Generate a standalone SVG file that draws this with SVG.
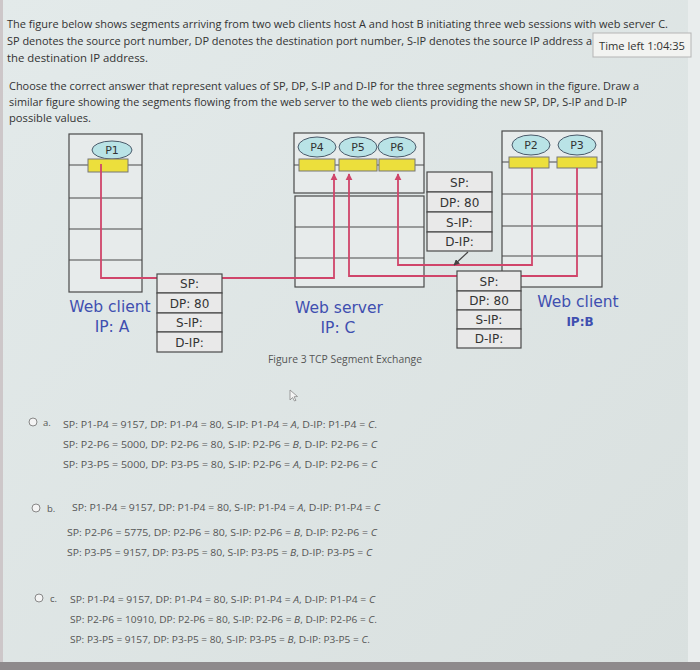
<svg xmlns="http://www.w3.org/2000/svg" width="700" height="670" viewBox="0 0 700 670">
<defs>
<linearGradient id="bg" x1="0" y1="0" x2="1" y2="1">
<stop offset="0" stop-color="#e3eaea"/>
<stop offset="1" stop-color="#d9e0df"/>
</linearGradient>
<marker id="ah" viewBox="0 0 10 10" refX="9" refY="5" markerWidth="4" markerHeight="4" orient="auto"><path d="M0,0 L10,5 L0,10 z" fill="#d0456a"/></marker>
<marker id="ag" viewBox="0 0 10 10" refX="9" refY="5" markerWidth="5" markerHeight="5" orient="auto"><path d="M0,0 L10,5 L0,10 z" fill="#444"/></marker>
</defs>
<style>
.hd{font-family:"Open Sans","Liberation Sans",sans-serif;font-size:10.8px;fill:#333}
.op{font-family:"Open Sans","Liberation Sans",sans-serif;font-size:9.5px;fill:#555}
.cap{font-family:"Open Sans","Liberation Sans",sans-serif;font-size:10px;fill:#555}
.stk{fill:#e7ebeb;stroke:#4a4a4a;stroke-width:1.2}
.ln{stroke:#4a4a4a;stroke-width:1.2}
.yel{fill:#ecdf3c;stroke:#777;stroke-width:1}
.ell{fill:#b9e3e6;stroke:#4a5a6a;stroke-width:1}
.pl{font-family:"DejaVu Sans",sans-serif;font-size:11px;fill:#333;text-anchor:middle}
.seg rect{fill:#e9e9e9;stroke:#4a4a4a;stroke-width:1.2}
.st{font-family:"DejaVu Sans",sans-serif;font-size:12px;fill:#333;text-anchor:middle}
.lab{font-family:"DejaVu Sans",sans-serif;font-size:15.5px;fill:#3f4fb0;text-anchor:middle}
.lab.sm{font-size:12px;font-weight:bold}
.red{fill:none;stroke:#d0456a;stroke-width:1.8}
.rad{fill:#f4f4f4;stroke:#888;stroke-width:1}
</style>
<rect width="700" height="670" fill="url(#bg)"/>
<rect x="688" y="0" width="12" height="662" fill="#e9eded"/>
<rect x="0" y="0" width="3" height="670" fill="#cdc7c9"/>
<rect x="0" y="662" width="700" height="8" fill="#8e8a8c"/>

<g id="header">
<text class="hd" x="7" y="28" textLength="661" lengthAdjust="spacingAndGlyphs">The figure below shows segments arriving from two web clients host A and host B initiating three web sessions with web server C.</text>
<text class="hd" x="7" y="45" textLength="585" lengthAdjust="spacingAndGlyphs">SP denotes the source port number, DP denotes the destination port number, S-IP denotes the source IP address a</text>
<text class="hd" x="7" y="62" textLength="141" lengthAdjust="spacingAndGlyphs">the destination IP address.</text>
<text class="hd" x="9" y="90" textLength="630" lengthAdjust="spacingAndGlyphs">Choose the correct answer that represent values of SP, DP, S-IP and D-IP for the three segments shown in the figure.  Draw a</text>
<text class="hd" x="9" y="106" textLength="618" lengthAdjust="spacingAndGlyphs">similar figure showing the segments flowing from the web server to the web clients providing the new SP, DP, S-IP and D-IP</text>
<text class="hd" x="9" y="122" textLength="82" lengthAdjust="spacingAndGlyphs">possible values.</text>
</g>
<g id="timer">
<rect x="593" y="33" width="98" height="24" fill="#f2f3f1" stroke="#b5b5b5"/>
<text class="hd" x="599" y="50" textLength="86" lengthAdjust="spacingAndGlyphs">Time left 1:04:35</text>
</g>

<g id="clientA">
<rect class="stk" x="69" y="134" width="73" height="158"/>
<line class="ln" x1="69" y1="165" x2="142" y2="165"/>
<line class="ln" x1="69" y1="198" x2="142" y2="198"/>
<line class="ln" x1="69" y1="229" x2="142" y2="229"/>
<line class="ln" x1="69" y1="260" x2="142" y2="260"/>
<ellipse class="ell" cx="112" cy="150" rx="20" ry="9"/>
<text class="pl" x="112" y="154">P1</text>
<rect class="yel" x="88" y="159" width="40" height="13"/>
<text class="lab" x="110" y="312">Web client</text>
<text class="lab" x="112" y="332">IP: A</text>
</g>

<g id="server">
<rect class="stk" x="294" y="133" width="130" height="60"/>
<rect class="stk" x="295" y="196" width="129" height="91"/>
<line class="ln" x1="294" y1="165" x2="424" y2="165"/>
<line class="ln" x1="295" y1="227" x2="424" y2="227"/>
<line class="ln" x1="295" y1="258" x2="424" y2="258"/>
<ellipse class="ell" cx="317" cy="147" rx="19" ry="10"/>
<text class="pl" x="317" y="151">P4</text>
<ellipse class="ell" cx="358" cy="147" rx="19" ry="10"/>
<text class="pl" x="358" y="151">P5</text>
<ellipse class="ell" cx="397" cy="147" rx="19" ry="10"/>
<text class="pl" x="397" y="151">P6</text>
<rect class="yel" x="299" y="159" width="36" height="12"/>
<rect class="yel" x="339" y="159" width="38" height="12"/>
<rect class="yel" x="379" y="159" width="36" height="12"/>
<text class="lab" x="339" y="313">Web server</text>
<text class="lab" x="338" y="333">IP: C</text>
</g>

<g id="clientB">
<rect class="stk" x="502" y="131" width="100" height="156"/>
<line class="ln" x1="502" y1="162" x2="602" y2="162"/>
<line class="ln" x1="502" y1="194" x2="602" y2="194"/>
<line class="ln" x1="502" y1="226" x2="602" y2="226"/>
<line class="ln" x1="502" y1="256" x2="602" y2="256"/>
<ellipse class="ell" cx="531" cy="145" rx="19" ry="10"/>
<text class="pl" x="531" y="149">P2</text>
<ellipse class="ell" cx="577" cy="145" rx="19" ry="10"/>
<text class="pl" x="577" y="149">P3</text>
<rect class="yel" x="509" y="157" width="40" height="11"/>
<rect class="yel" x="557" y="157" width="40" height="11"/>
<text class="lab" x="578" y="307">Web client</text>
<text class="lab sm" x="580" y="326">IP:B</text>
</g>

<g id="connectors">
<path class="red" d="M101,164 V278 H334 V174" marker-end="url(#ah)"/>
<path class="red" d="M532,168 V265 H398 V174" marker-end="url(#ah)"/>
<path class="red" d="M577,168 V276 H349 V174" marker-end="url(#ah)"/>
<path d="M468,252 L454,265" stroke="#444" stroke-width="1.2" fill="none" marker-end="url(#ag)"/>
</g>

<g id="segA" class="seg">
<rect x="157" y="274" width="65" height="19"/>
<rect x="157" y="293" width="65" height="20"/>
<rect x="157" y="313" width="65" height="19"/>
<rect x="157" y="332" width="65" height="20"/>
<text class="st" x="189.5" y="288">SP:</text>
<text class="st" x="189.5" y="307.5">DP: 80</text>
<text class="st" x="189.5" y="327">S-IP:</text>
<text class="st" x="189.5" y="346.5">D-IP:</text>
</g>

<g id="segB1" class="seg">
<rect x="427" y="172" width="65" height="20"/>
<rect x="427" y="192" width="65" height="20"/>
<rect x="427" y="212" width="65" height="20"/>
<rect x="427" y="232" width="65" height="19"/>
<text class="st" x="459.5" y="186.5">SP:</text>
<text class="st" x="459.5" y="206.5">DP: 80</text>
<text class="st" x="459.5" y="226.5">S-IP:</text>
<text class="st" x="459.5" y="246">D-IP:</text>
</g>

<g id="segB2" class="seg">
<rect x="457" y="271" width="64" height="20"/>
<rect x="457" y="291" width="64" height="19"/>
<rect x="457" y="310" width="64" height="19"/>
<rect x="457" y="329" width="64" height="19"/>
<text class="st" x="489" y="285.5">SP:</text>
<text class="st" x="489" y="305">DP: 80</text>
<text class="st" x="489" y="324">S-IP:</text>
<text class="st" x="489" y="343">D-IP:</text>
</g>

<text class="cap" x="268" y="363" textLength="154" lengthAdjust="spacingAndGlyphs">Figure 3 TCP Segment Exchange</text>
<path d="M290,390 L290,400 L292.5,397.5 L294.5,401 L296,400.3 L294,396.8 L297.5,396.5 Z" fill="#f4f4f4" stroke="#888" stroke-width="0.8"/>

<g id="optA">
<circle class="rad" cx="33" cy="422" r="4"/>
<text class="op" x="43" y="426">a.</text>
<text class="op" x="63" y="428" textLength="314" lengthAdjust="spacingAndGlyphs">SP: P1-P4 = 9157, DP: P1-P4 = 80, S-IP: P1-P4 = <tspan font-style="italic">A</tspan>, D-IP: P1-P4 = <tspan font-style="italic">C</tspan>.</text>
<text class="op" x="63" y="448" textLength="314" lengthAdjust="spacingAndGlyphs">SP: P2-P6 = 5000, DP: P2-P6 = 80, S-IP: P2-P6 = <tspan font-style="italic">B</tspan>, D-IP: P2-P6 = <tspan font-style="italic">C</tspan></text>
<text class="op" x="63" y="468" textLength="314" lengthAdjust="spacingAndGlyphs">SP: P3-P5 = 5000, DP: P3-P5 = 80, S-IP: P2-P6 = <tspan font-style="italic">A</tspan>, D-IP: P2-P6 = <tspan font-style="italic">C</tspan></text>
</g>

<g id="optB">
<circle class="rad" cx="36" cy="508" r="4"/>
<text class="op" x="47" y="512">b.</text>
<text class="op" x="72" y="511" textLength="308" lengthAdjust="spacingAndGlyphs">SP: P1-P4 = 9157, DP: P1-P4 = 80, S-IP: P1-P4 = <tspan font-style="italic">A</tspan>, D-IP: P1-P4 = <tspan font-style="italic">C</tspan></text>
<text class="op" x="67" y="536" textLength="310" lengthAdjust="spacingAndGlyphs">SP: P2-P6 = 5775, DP: P2-P6 = 80, S-IP: P2-P6 = <tspan font-style="italic">B</tspan>, D-IP: P2-P6 = <tspan font-style="italic">C</tspan></text>
<text class="op" x="67" y="556" textLength="305" lengthAdjust="spacingAndGlyphs">SP: P3-P5 = 9157, DP: P3-P5 = 80, S-IP: P3-P5 = <tspan font-style="italic">B</tspan>, D-IP: P3-P5 = <tspan font-style="italic">C</tspan></text>
</g>

<g id="optC">
<circle class="rad" cx="39" cy="598" r="4"/>
<text class="op" x="50" y="602">c.</text>
<text class="op" x="70" y="603" textLength="305" lengthAdjust="spacingAndGlyphs">SP: P1-P4 = 9157, DP: P1-P4 = 80, S-IP: P1-P4 = <tspan font-style="italic">A</tspan>, D-IP: P1-P4 = <tspan font-style="italic">C</tspan></text>
<text class="op" x="70" y="623" textLength="307" lengthAdjust="spacingAndGlyphs">SP: P2-P6 = 10910, DP: P2-P6 = 80, S-IP: P2-P6 = <tspan font-style="italic">B</tspan>, D-IP: P2-P6 = <tspan font-style="italic">C</tspan>.</text>
<text class="op" x="70" y="643" textLength="300" lengthAdjust="spacingAndGlyphs">SP: P3-P5 = 9157, DP: P3-P5 = 80, S-IP: P3-P5 = <tspan font-style="italic">B</tspan>, D-IP: P3-P5 = <tspan font-style="italic">C</tspan>.</text>
</g>
</svg>
